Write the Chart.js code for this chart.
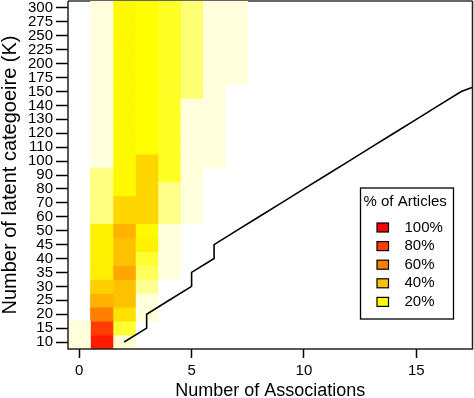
<!DOCTYPE html>
<html>
<head>
<meta charset="utf-8">
<script src="https://cdn.jsdelivr.net/npm/chart.js@4.4.0/dist/chart.umd.min.js"></script>
<style>
html, body { margin: 0; padding: 0; background: #fff; }
#wrap { width: 474px; height: 398px; }
</style>
</head>
<body>
<div id="wrap"><canvas id="heat"></canvas></div>
<script>
// ── data ─────────────────────────────────────────
const kLabels = ['10','15','20','25','30','35','40','45','50','60','70','80','90',
                 '100','110','120','130','140','150','175','200','225','250','275','300'];
const assoc = [0, 1, 2, 3, 4, 5, 6, 7];

// % of articles per K row (10 → 300), one array per number of associations
const pct0 = [1,1,0,0,0,0,0,0,0,0,0,0,0,0,0,0,0,0,0,0,0,0,0,0,0];
const pct1 = [92,81,60,44,35,25,24,24,24,10,10,10,10,1,1,1,1,1,1,1,1,1,1,1,1];
const pct2 = [2,16,30,40,40,48,40,40,44,33,33,22,22,22,22,22,22,22,22,22,22,22,22,22,22];
const pct3 = [0,0,1,1,8,13,16,24,22,33,33,33,33,33,20,20,20,20,20,20,20,20,20,20,20];
const pct4 = [0,0,0,0,0,1,1,1,1,9,9,9,17,17,17,17,17,17,17,17,17,17,17,17,17];
const pct5 = [0,0,0,0,0,0,0,0,0,1,1,1,1,1,1,1,1,1,11,11,11,11,11,11,11];
const pct6 = [0,0,0,0,0,0,0,0,0,0,0,0,0,1,1,1,1,1,1,1,1,1,1,1,1];
const pct7 = [0,0,0,0,0,0,0,0,0,0,0,0,0,0,0,0,0,0,0,1,1,1,1,1,1];
const pctCols = [pct0, pct1, pct2, pct3, pct4, pct5, pct6, pct7];

// upper bound line
const lineAssoc = [2,3,3,4,5,5,6,6,7,8,9,10,11,12,13,14,15,16,17,18];
const lineK     = [10,15,20,25,30,35,40,45,50,60,70,80,90,100,110,120,130,140,150,165];

const xTicks = [0, 5, 10, 15];
const legendPct = [100, 80, 60, 40, 20];

// ── colour ramp (heat colours) ───────────────────
const STOPS = [
    [0,   [255,255,230]],
    [10,  [255,255,128]],
    [20,  [255,255,0]],
    [40,  [255,192,0]],
    [60,  [255,128,0]],
    [80,  [255,64,0]],
    [100, [255,0,0]],
];
function heat(p) {
    for (let i = 0; i < STOPS.length - 1; i++) {
        const [p0, c0] = STOPS[i], [p1, c1] = STOPS[i + 1];
        if (p <= p1) {
            const t = (p - p0) / (p1 - p0);
            const c = c0.map((v, j) => Math.round(v + (c1[j] - v) * t));
            return `rgb(${c[0]},${c[1]},${c[2]})`;
        }
    }
    return 'rgb(255,0,0)';
}

// K value → position on the category axis
const kNums = kLabels.map(Number);
function kToRow(k) {
    for (let i = 0; i < kNums.length - 1; i++) {
        if (k <= kNums[i + 1]) return i + (k - kNums[i]) / (kNums[i + 1] - kNums[i]);
    }
    return kNums.length - 1;
}

const FONT = '"Liberation Sans", Arial, Helvetica, sans-serif';
Chart.defaults.font.family = FONT;
Chart.defaults.color = '#000';

// ── box + legend ─────────────────────────────────
const boxPlugin = {
    id: 'box',
    beforeDatasetsDraw(chart) {
        const { ctx, chartArea: a } = chart;
        ctx.save();
        ctx.strokeStyle = '#333';
        ctx.lineWidth = 1.5;
        ctx.beginPath();
        ctx.moveTo(a.left, a.top); ctx.lineTo(a.right, a.top);
        ctx.stroke();
        ctx.restore();
    },
    afterDatasetsDraw(chart) {
        const { ctx, chartArea: a } = chart;
        ctx.save();
        ctx.strokeStyle = '#222';
        ctx.lineWidth = 1.5;
        ctx.beginPath();
        ctx.moveTo(a.right, a.top); ctx.lineTo(a.right, a.bottom);
        ctx.lineTo(a.left, a.bottom); ctx.lineTo(a.left, a.top);
        ctx.stroke();

        // legend
        const bx = a.right - 112, by = a.top + 187, bw = 93, bh = 131;
        ctx.fillStyle = '#fff';
        ctx.fillRect(bx, by, bw, bh);
        ctx.strokeStyle = '#000';
        ctx.lineWidth = 1.3;
        ctx.strokeRect(bx, by, bw, bh);
        ctx.font = '15px ' + FONT;
        ctx.textBaseline = 'middle';
        ctx.fillStyle = '#000';
        ctx.fillText('% of Articles', bx + 3, by + 14);
        ctx.lineWidth = 1.2;
        legendPct.forEach((p, i) => {
            const y = by + 39.5 + i * 18.6;
            ctx.fillStyle = heat(p);
            ctx.fillRect(bx + 16.5, y - 4.5, 11.5, 9);
            ctx.strokeRect(bx + 16.5, y - 4.5, 11.5, 9);
            ctx.fillStyle = '#000';
            ctx.fillText(p + '%', bx + 44, y);
        });
        ctx.restore();
    }
};

// ── chart ───────────────────────────────────────
const cellSets = assoc.map((a, c) => ({
    type: 'bar',
    label: 'assoc ' + a,
    indexAxis: 'y',
    data: pctCols[c].map(v => v > 0 ? [a - 0.5, a + 0.5] : null),
    backgroundColor: pctCols[c].map(v => heat(v)),
    borderWidth: 0,
    barPercentage: 1,
    categoryPercentage: 1,
    grouped: false,
    xAxisID: 'x',
    yAxisID: 'y',
}));

const lineSet = {
    type: 'line',
    label: 'bound',
    indexAxis: 'x',
    data: lineAssoc.map((a, i) => ({ x: a, y: kToRow(lineK[i]) })),
    borderColor: '#000',
    borderWidth: 1.6,
    pointRadius: 0,
    tension: 0,
    fill: false,
    xAxisID: 'x',
    yAxisID: 'y2',
    order: -1,
};

new Chart(document.getElementById('heat'), {
    type: 'bar',
    data: { labels: kLabels, datasets: [lineSet, ...cellSets] },
    options: {
        indexAxis: 'y',
        responsive: true,
        maintainAspectRatio: false,
        animation: false,
        layout: { padding: { top: 1, right: 1.5, left: 0, bottom: 0 } },
        plugins: { legend: { display: false }, tooltip: { enabled: false } },
        scales: {
            x: {
                type: 'linear',
                position: 'bottom',
                min: -0.5,
                max: 17.5,
                afterBuildTicks: s => { s.ticks = xTicks.map(v => ({ value: v })); },
                afterFit: s => { s.height = 49; s.paddingLeft = 0; s.paddingRight = 0; },
                border: { display: false },
                grid: { drawOnChartArea: false, drawTicks: true, tickLength: 9, tickWidth: 1.5, tickColor: '#000' },
                ticks: { font: { size: 15 }, padding: 4, maxRotation: 0 },
                title: { display: true, text: 'Number of Associations',
                         font: { size: 18, lineHeight: 1 }, padding: { top: 0, bottom: -2 } },
            },
            y: {
                type: 'category',
                position: 'left',
                labels: kLabels,
                reverse: true,
                offset: true,
                afterFit: s => { s.width = 68; s.paddingTop = 0; s.paddingBottom = 0; },
                border: { display: false },
                grid: { offset: false, drawOnChartArea: false, drawTicks: true, tickLength: 12, tickWidth: 1.5, tickColor: '#000' },
                ticks: { font: { size: 15 }, padding: 3, autoSkip: false },
                title: { display: true, text: 'Number of latent categoeire (K)',
                         font: { size: 20, lineHeight: 1 }, padding: { top: 0, bottom: 0 } },
            },
            y2: { type: 'linear', display: false, offset: false, min: -0.5, max: 24.5 },
        },
    },
    plugins: [boxPlugin],
});
</script>
</body>
</html>
